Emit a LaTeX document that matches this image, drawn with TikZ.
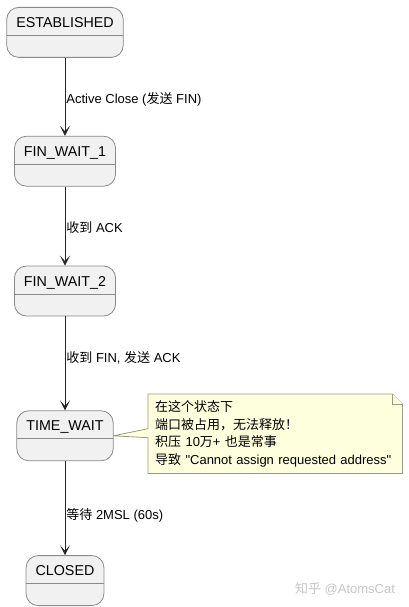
\documentclass[tikz,border=0pt]{standalone}
\usepackage{fontspec}
\setmainfont{Liberation Sans}
\newfontfamily\cjk{Noto Sans CJK SC}
\newcommand{\cn}[1]{{\cjk #1}}
\usetikzlibrary{positioning,arrows.meta,backgrounds}
\definecolor{stfill}{HTML}{F1F1F1}
\definecolor{stline}{HTML}{8A8A8A}
\definecolor{notefill}{HTML}{FEFFDD}
\definecolor{noteline}{HTML}{9A9A84}
\tikzset{
  state/.style={draw=stline, fill=stfill, rounded corners=12pt, line width=0.8pt,
    font=\fontsize{14.3}{17}\selectfont,
    inner xsep=9.5pt, inner ysep=0pt, text height=20pt, text depth=30pt,
    path picture={\draw[stline, line width=0.8pt]
      ([yshift=-28pt]path picture bounding box.north west) --
      ([yshift=-28pt]path picture bounding box.north east);}},
  trans/.style={draw=black!85, line width=0.8pt, -{Stealth[length=10pt,width=10pt,inset=5.5pt]}},
  lbl/.style={anchor=west, inner sep=1pt},
  notebox/.style={draw=noteline, fill=notefill, line width=0.8pt}
}
\begin{document}
\begin{tikzpicture}[x=1pt, y=-1pt, every node/.style={font=\fontsize{13}{16}\selectfont}]
  \useasboundingbox (0,0) rectangle (408,607);

  % states
  \node[state, anchor=north] (est) at (65,7) {ESTABLISHED};
  \node[state, below=78pt of est] (fw1) {FIN\_WAIT\_1};
  \node[state, below=79pt of fw1] (fw2) {FIN\_WAIT\_2};
  \node[state, below=94pt of fw2] (tw) {TIME\_WAIT};
  \node[state, below=94pt of tw] (closed) {CLOSED};

  % transitions
  \draw[trans] (est) -- node[lbl, pos=0.53] {Active Close (\cn{发送} FIN)} (fw1);
  \draw[trans] (fw1) -- node[lbl, pos=0.52] {\cn{收到} ACK} (fw2);
  \draw[trans] (fw2) -- node[lbl, pos=0.44] {\cn{收到} FIN, \cn{发送} ACK} (tw);
  \draw[trans] (tw) -- node[lbl, pos=0.58] {\cn{等待} 2MSL (60s)} (closed);

  % note
  \node[anchor=north west, text width=240pt, inner xsep=7pt, inner ysep=4pt,
    minimum height=79pt, align=left, font=\fontsize{13}{17.5}\selectfont] (note) at (148,394)
    {\cn{在这个状态下}\\
     \cn{端口被占用，无法释放！}\\
     \cn{积压} 10\cn{万}+ \cn{也是常事}\\
     \cn{导致} \textquotedbl Cannot assign requested address\textquotedbl};
  \begin{scope}[on background layer]
    \draw[notebox] (note.north west) -- ([xshift=-10pt]note.north east)
      -- ([yshift=-10pt]note.north east) -- (note.south east) -- (note.south west)
      -- ([yshift=-4pt]note.west) -- (tw.east) -- ([yshift=5pt]note.west) -- cycle;
    \draw[notebox] ([xshift=-10pt]note.north east) |- ([yshift=-10pt]note.north east);
  \end{scope}

  \node[text=gray!45] (mark) at (345,589) {\cn{知乎} @AtomsCat};
\end{tikzpicture}
\end{document}
